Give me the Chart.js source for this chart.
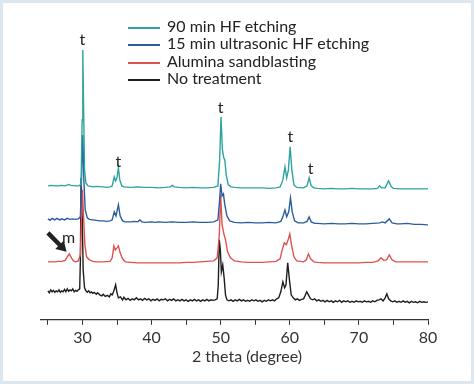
<!DOCTYPE html>
<html>
<head>
<meta charset="utf-8">
<script src="https://cdn.jsdelivr.net/npm/chart.js@4/dist/chart.umd.min.js"></script>
<style>
  body { margin: 0; background: #fff; }
  #wrap { position: relative; width: 474px; height: 384px; }
  #frame { position: absolute; left: 0; top: 0; width: 468px; height: 378px; border: 3px solid #dce7ef; pointer-events: none; }
  #legend { position: absolute; left: 128px; top: 17px; font: 16px Lato, sans-serif; color: #222; }
  #legend div { height: 17.4px; line-height: 17.4px; white-space: nowrap; }
  #legend span.sw { display: inline-block; width: 32px; height: 2px; vertical-align: middle; margin-right: 7px; }
  #xtitle { position: absolute; left: 147px; width: 200px; top: 346px; text-align: center; font: 16px Lato, sans-serif; color: #333; line-height: 20px; }
</style>
</head>
<body>
<div id="wrap">
  <canvas id="xrdChart" width="474" height="384"></canvas>
  <div id="legend"></div>
  <div id="xtitle">2 theta (degree)</div>
  <div id="frame"></div>
</div>
<script>
// series names and colours (legend order)
const seriesNames = ['90 min HF etching', '15 min ultrasonic HF etching', 'Alumina sandblasting', 'No treatment'];
const seriesColors = ['#2ea3a0', '#2b5d9e', '#de5350', '#1e1e1e'];

// x tick values (2 theta), labels only on tens
const tickValues = [25, 30, 35, 40, 45, 50, 55, 60, 65, 70, 75, 80];

// intensities (stacked, arbitrary units)
const hfEtching = [[25,134],[25.5,134.5],[26,134],[26.5,134],[27,134.5],[27.5,134],[28,135.5],[28.3,134.5],[29,134],[29.5,134],[29.8,136],[29.95,200],[30.05,270],[30.15,220],[30.3,150],[30.5,137],[30.8,134],[31.5,133],[32,133.5],[33,133],[33.5,132.5],[34,133],[34.3,134],[34.6,143],[34.8,139],[35.0,142],[35.2,152],[35.4,140],[35.7,134],[36,133],[37,132.5],[38,133],[39,132.5],[40,132.5],[41,132],[42,132.5],[42.7,133],[43,134.5],[43.3,133],[44,132.5],[45,132],[46,132.5],[47,132],[48,132],[49,132.5],[49.6,134],[49.85,160],[50.05,203],[50.25,170],[50.45,162],[50.6,160],[50.8,145],[51.1,135],[51.5,133],[52,132.5],[53,132],[54,132],[55,132],[56,132],[57,131.5],[58,132],[58.6,133],[59.0,140],[59.3,153],[59.55,142],[59.8,150],[60.05,173],[60.3,150],[60.6,135],[61,132.5],[62,132],[62.5,134],[62.8,142],[63.1,134],[63.5,132],[64,131.5],[65,131],[66,131.5],[67,131],[68,131],[69,131.5],[70,131],[71,131],[72,131],[72.7,131.5],[73.0,134],[73.3,132],[73.8,132],[74.3,139],[74.7,133],[75,131.5],[76,131],[77,131],[78,131],[79,131],[80,131]];

const ultrasonicHf = [[25,101],[25.3,99.5],[25.6,101.5],[26,100],[26.3,101.5],[26.7,100],[27,101],[27.4,100],[27.8,101.5],[28.2,100.5],[28.6,101],[29,100.5],[29.4,101],[29.7,103],[29.9,150],[30.05,185],[30.2,140],[30.4,110],[30.7,102],[31,100.5],[31.5,100],[32,99.5],[32.5,99],[33,99],[33.5,98.5],[34,99],[34.3,100],[34.6,108],[34.85,104],[35.2,115],[35.45,104],[35.8,99],[36.2,98],[37,98],[37.5,98.5],[38,98],[38.3,100],[38.6,98],[39,97.5],[40,98],[40.5,97.5],[41,98],[42,97.5],[43,98],[44,97.5],[45,97.5],[46,98],[47,97.5],[48,97.5],[49,98],[49.6,100],[49.85,120],[50.0,136],[50.2,124],[50.4,126],[50.6,115],[50.9,104],[51.3,99],[52,97.5],[53,97],[54,97.5],[55,97],[56,97],[57,97.5],[58,97],[58.7,98.5],[59.0,103],[59.3,110],[59.55,103],[59.85,108],[60.1,122],[60.35,108],[60.7,99],[61.2,97],[62,97],[62.5,98.5],[62.8,103],[63.1,98],[63.6,96.5],[64,96.5],[65,96],[66,96.5],[67,96],[68,96],[69,96.5],[70,96],[71,96],[72,96.5],[73,97],[73.4,98],[73.8,97],[74.4,101],[74.8,97],[75.5,96],[76,96],[77,96.5],[78,95.5],[79,95.5],[80,95]];

const sandblasting = [[25,58],[25.5,58],[26,58],[26.5,58.5],[27,58.5],[27.5,59.5],[27.8,63],[28.1,66],[28.4,62],[28.7,59],[29,58],[29.4,59],[29.7,65],[29.85,100],[30.0,130],[30.15,105],[30.35,75],[30.6,63],[31,60],[31.5,58.5],[32,58],[33,58],[34,58.5],[34.3,62],[34.55,74],[34.75,70],[35.0,72],[35.2,74],[35.45,67],[35.8,61],[36.2,58],[37,57.5],[38,57],[39,57],[40,57],[41,57],[42,57],[43,57],[44,57],[45,57.5],[46,57.5],[47,58],[48,58.5],[49,59],[49.5,62],[49.8,85],[50.0,125],[50.2,95],[50.5,85],[50.7,80],[51,68],[51.4,62],[52,59],[53,58],[54,57.5],[55,57.5],[56,57.5],[57,58],[58,58.5],[58.6,61],[58.9,70],[59.2,77],[59.5,75],[59.75,80],[60.0,86],[60.25,75],[60.6,63],[61,59],[62,58],[62.4,60],[62.7,66],[63,61],[63.5,58],[64,57.5],[65,57],[66,57],[67,57],[68,57],[69,57],[70,57],[71,57.5],[72,57.5],[72.8,59],[73.2,62],[73.6,59.5],[74,60],[74.4,65],[74.8,60],[75.3,58],[76,58],[77,58],[78,58],[79,58],[80,58]];

const noTreatment = [[25,29],[25.2,27],[25.4,30],[25.6,28],[25.8,29.5],[26,27.5],[26.2,29],[26.4,28],[26.6,30],[26.8,27.5],[27,29],[27.2,28],[27.4,30.5],[27.6,28],[27.8,31],[28,28.5],[28.2,30],[28.4,29],[28.6,31],[28.8,28],[29,29.5],[29.2,28.5],[29.4,30],[29.6,31],[29.7,60],[29.8,142],[29.95,110],[30.1,50],[30.3,32],[30.5,29],[30.7,27.5],[30.9,29],[31.1,27],[31.3,28],[31.5,26.5],[31.7,27.5],[32,25.5],[32.2,27],[32.5,25],[32.8,24],[33,25.5],[33.3,23.5],[33.6,24.5],[33.9,23],[34.1,26],[34.3,25],[34.5,28],[34.8,35],[35.0,27],[35.2,22],[35.5,23],[35.8,20],[36,22.5],[36.3,20],[36.6,21.5],[36.9,19.5],[37.2,21],[37.5,20],[37.8,22],[38.1,20],[38.4,21],[38.7,19.5],[39,21.5],[39.3,20],[39.6,21],[39.9,19],[40.2,20.5],[40.5,19.5],[40.8,21],[41.1,19],[41.4,20.5],[41.7,20],[42,21],[42.3,19],[42.6,20.5],[42.9,19.5],[43.2,21],[43.5,19],[43.8,20],[44.1,19],[44.4,20.5],[44.7,19],[45,20],[45.3,18.5],[45.6,20],[45.9,19],[46.2,20.5],[46.5,19],[46.8,20],[47.1,18.5],[47.4,20],[47.7,19],[48,20.5],[48.3,19],[48.6,20],[48.9,19.5],[49.2,20],[49.5,21],[49.65,35],[49.8,80],[49.95,70],[50.1,48],[50.3,55],[50.5,42],[50.7,25],[50.9,20],[51.2,19],[51.5,20],[51.8,18.5],[52.1,20],[52.4,19],[52.7,20.5],[53,19],[53.3,20],[53.6,18.5],[53.9,19.5],[54.2,18.5],[54.5,20],[54.8,19],[55.1,20],[55.4,18.5],[55.7,19.5],[56,18],[56.3,19.5],[56.6,18.5],[56.9,20],[57.2,19],[57.5,20],[57.8,19],[58.1,21],[58.4,22],[58.7,28],[59.0,38],[59.25,32],[59.45,35],[59.7,57],[59.95,40],[60.2,25],[60.5,22],[60.8,20],[61.1,21],[61.4,19.5],[61.7,20.5],[62,21],[62.2,24],[62.45,28],[62.7,25],[63,21],[63.3,20],[63.6,21],[63.9,19],[64.2,20],[64.5,18.5],[64.8,19.5],[65.1,18],[65.4,19.5],[65.7,18],[66,19],[66.3,17.5],[66.6,19],[66.9,18],[67.2,19.5],[67.5,17.5],[67.8,19],[68.1,18],[68.4,19],[68.7,17.5],[69,18.5],[69.3,17.5],[69.6,19],[69.9,18],[70.2,18.5],[70.5,17.5],[70.8,19],[71.1,18],[71.4,18.5],[71.7,17.5],[72,19],[72.3,18],[72.6,19.5],[72.9,20],[73.2,21],[73.5,19],[73.8,22],[74.05,26],[74.3,21],[74.6,19],[74.9,18],[75.2,19],[75.5,17.5],[75.8,18.5],[76.1,17.5],[76.4,19],[76.7,17.5],[77,18.5],[77.3,17],[77.6,18.5],[77.9,17.5],[78.2,18],[78.5,17],[78.8,18.5],[79.1,17.5],[79.4,18],[79.7,17.5],[80,18]];

// peak labels: [text, 2theta, intensity]
const peakLabels = [['t', 30.0, 280], ['t', 35.2, 158], ['t', 50.0, 212], ['t', 60.1, 183], ['t', 63.0, 151], ['m', 28.0, 82]];
// arrow pointing at the m peak: [from 2theta, from y, to 2theta, to y]
const arrowM = [25.0, 87, 27.7, 68];

const allSeries = [hfEtching, ultrasonicHf, sandblasting, noTreatment];

// html legend
const legendBox = document.getElementById('legend');
seriesNames.forEach((name, i) => {
  const row = document.createElement('div');
  row.innerHTML = '<span class="sw" style="background:' + seriesColors[i] + '"></span>' + name;
  legendBox.appendChild(row);
});

// labels and arrow on top of the lines
const annotate = {
  id: 'annotate',
  afterDatasetsDraw(chart) {
    const ctx = chart.ctx;
    const xs = chart.scales.x, ys = chart.scales.y;
    ctx.save();
    ctx.fillStyle = '#222';
    ctx.font = '16px Lato, sans-serif';
    ctx.textAlign = 'center';
    ctx.textBaseline = 'middle';
    peakLabels.forEach(p => {
      ctx.fillText(p[0], xs.getPixelForValue(p[1]), ys.getPixelForValue(p[2]));
    });
    // arrow
    const x1 = xs.getPixelForValue(arrowM[0]), y1 = ys.getPixelForValue(arrowM[1]);
    const x2 = xs.getPixelForValue(arrowM[2]), y2 = ys.getPixelForValue(arrowM[3]);
    const ang = Math.atan2(y2 - y1, x2 - x1);
    const headLen = 10, headW = 6, shaftW = 2.2;
    const len = Math.hypot(x2 - x1, y2 - y1);
    ctx.translate(x1, y1);
    ctx.rotate(ang);
    ctx.beginPath();
    ctx.moveTo(0, -shaftW);
    ctx.lineTo(len - headLen, -shaftW);
    ctx.lineTo(len - headLen, -headW);
    ctx.lineTo(len, 0);
    ctx.lineTo(len - headLen, headW);
    ctx.lineTo(len - headLen, shaftW);
    ctx.lineTo(0, shaftW);
    ctx.closePath();
    ctx.fill();
    ctx.restore();
  }
};

new Chart(document.getElementById('xrdChart'), {
  type: 'line',
  data: {
    datasets: allSeries.map((s, i) => ({
      label: seriesNames[i],
      data: s.map(p => ({ x: p[0], y: p[1] })),
      borderColor: seriesColors[i],
      borderWidth: 1.4,
      pointRadius: 0,
      tension: 0,
      fill: false
    }))
  },
  options: {
    responsive: false,
    animation: false,
    layout: { padding: { left: 41, right: 46, top: 40, bottom: 34 } },
    scales: {
      x: {
        type: 'linear',
        min: 24,
        max: 80,
        afterBuildTicks: axis => { axis.ticks = tickValues.map(v => ({ value: v })); },
        ticks: {
          includeBounds: false,
          autoSkip: false,
          maxRotation: 0,
          padding: 3,
          color: '#333',
          font: { family: 'Lato, sans-serif', size: 16 },
          callback: v => (v % 10 === 0 ? String(v) : '')
        },
        grid: { drawOnChartArea: false, drawTicks: true, tickLength: 5, color: '#333', tickWidth: 1 },
        border: { display: true, color: '#333', width: 1.2 }
      },
      y: { display: false, min: 0, max: 280 }
    },
    plugins: {
      legend: { display: false },
      tooltip: { enabled: false }
    }
  },
  plugins: [annotate]
});
</script>
</body>
</html>
